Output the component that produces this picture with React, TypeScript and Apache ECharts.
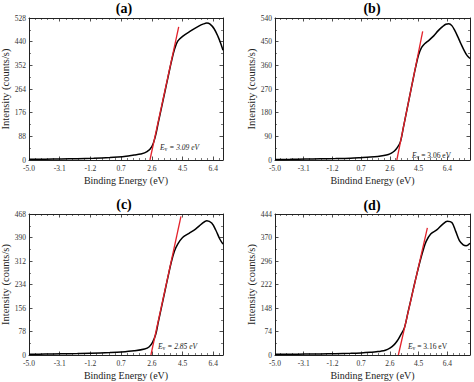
import React, { useEffect, useRef } from "react";
import * as echarts from "echarts";

// ---- axis definitions ----
const X_MIN = -5.0;
const X_MAX = [7.0, 7.9, 7.0, 7.9];
const X_STEP = 1.9;
const X_TICK_LABELS = ["-5.0", "-3.1", "-1.2", "0.7", "2.6", "4.5", "6.4"];

const PANEL_TITLES = ["(a)", "(b)", "(c)", "(d)"];
const X_NAMES = ["Binding Energy (eV)", "Bindind Energy (eV)", "Binding Energy (eV)", "Binding Energy (eV)"];
const Y_NAME = "Intensity (counts/s)";
const Y_MAX = [528, 540, 468, 444];
const Y_STEP = [88, 90, 78, 74];
const EV_VALUES = ["3.09", "3.06", "2.85", "3.16"];

// ---- spectra ----
const aX = [-5.0, -4.0, -3.0, -2.0, -1.0, 0.0, 0.5, 1.0, 1.5, 1.9, 2.3, 2.6, 2.8, 3.0, 3.2, 3.4, 3.6, 3.8, 4.0, 4.2, 4.5, 5.0, 5.5, 5.8, 6.0, 6.2, 6.45, 6.7, 6.85, 7.0];
const aY = [2.5, 3, 4, 5, 6.5, 9, 11, 14, 18.5, 22, 31, 50, 84, 140, 196, 252, 308, 364, 412, 442, 460, 480, 498, 506, 509, 505, 488, 458, 435, 408];

const bX = [-5, -4, -3, -2, -1, 0, 0.7, 1.3, 1.8, 2.2, 2.5, 2.7, 2.9, 3.1, 3.3, 3.5, 3.7, 3.9, 4.1, 4.3, 4.5, 4.7, 4.9, 5.2, 5.5, 5.8, 6.1, 6.3, 6.5, 6.7, 6.9, 7.1, 7.3, 7.5, 7.7, 7.9];
const bY = [2, 2.5, 3.5, 4.5, 5.5, 7, 9, 11, 13.5, 17, 21, 26, 34, 48, 70, 126, 183, 240, 297, 352, 400, 428, 442, 456, 472, 492, 508, 516, 518, 511, 492, 468, 442, 418, 398, 386];

const cX = [-5, -4, -3, -2, -1.2, 0, 0.7, 1.5, 2.15, 2.44, 2.64, 2.84, 3.0, 3.2, 3.4, 3.6, 3.8, 4.0, 4.2, 4.5, 4.9, 5.3, 5.7, 6.0, 6.3, 6.55, 6.8, 7.0];
const cY = [2.2, 3, 3.8, 4.6, 5.5, 8, 10, 14, 20, 27.5, 42, 69, 110, 160, 210, 260, 308, 345, 368, 390, 404, 418, 436, 446, 438, 415, 385, 368];

const dX = [-5, -4, -3, -2, -1, 0, 0.7, 1.3, 1.7, 2.0, 2.3, 2.6, 2.87, 3.08, 3.3, 3.57, 3.8, 4.0, 4.2, 4.4, 4.6, 4.8, 5.0, 5.3, 5.7, 6.1, 6.4, 6.7, 6.95, 7.2, 7.45, 7.65, 7.9];
const dY = [2, 2.5, 3, 3.5, 4.2, 5.2, 6.5, 8.5, 10.5, 12, 15, 22, 32, 44, 62, 87, 135, 176, 218, 258, 296, 330, 358, 381, 394, 412, 421, 417, 390, 360, 347, 344, 352];

// ---- linear extrapolation lines (start, end) ----
const fitAX = [2.48, 4.26];
const fitAY = [0, 495];
const fitBX = [3.06, 4.77];
const fitBY = [0, 489];
const fitCX = [2.54, 4.4];
const fitCY = [0, 460];
const fitDX = [3.16, 5.08];
const fitDY = [0, 400];

const CURVES_X = [aX, bX, cX, dX];
const CURVES_Y = [aY, bY, cY, dY];
const FITS_X = [fitAX, fitBX, fitCX, fitDX];
const FITS_Y = [fitAY, fitBY, fitCY, fitDY];

// ---- layout ----
const GRIDS = [
  { left: 29, top: 18, width: 194, height: 142 },
  { left: 275, top: 18, width: 195, height: 142 },
  { left: 29, top: 214, width: 194, height: 141 },
  { left: 275, top: 214, width: 195, height: 141 },
];
const TITLE_POS = [
  [124, 8],
  [372, 8],
  [124, 204],
  [372, 205],
];
const EV_POS = [
  [160, 147],
  [412, 155],
  [158, 346],
  [408, 346],
];
const EV_ITALIC = [true, false, true, false];

const SERIF = "'Liberation Serif', 'Times New Roman', serif";
const AXIS_COLOR = "#222";
const LABEL_COLOR = "#333";

const pair = (xs: number[], ys: number[]) => xs.map((x, i) => [x - X_MIN, ys[i]]);

function buildOption() {
  const xAxis: any[] = [];
  const yAxis: any[] = [];
  const series: any[] = [];
  const graphic: any[] = [];

  const xFormatter = (v: number) => {
    const k = Math.round(v / X_STEP);
    if (Math.abs(v - k * X_STEP) > 1e-6 || k < 0 || k >= X_TICK_LABELS.length) return "";
    return X_TICK_LABELS[k];
  };

  for (let i = 0; i < 4; i++) {
    const common = {
      gridIndex: i,
      axisLine: { show: true, onZero: false, lineStyle: { color: AXIS_COLOR, width: 1 } },
      axisTick: { show: true, inside: true, length: 3.5, lineStyle: { color: AXIS_COLOR, width: 0.8 } },
      splitLine: { show: false },
    };
    const xCommon = {
      ...common,
      type: "value",
      min: 0,
      max: X_MAX[i] - X_MIN,
      interval: X_STEP,
      minorTick: { show: true, splitNumber: 5, length: 2, lineStyle: { color: AXIS_COLOR, width: 0.6 } },
    };
    xAxis.push({
      ...xCommon,
      position: "bottom",
      name: X_NAMES[i],
      nameLocation: "middle",
      nameGap: 15,
      nameTextStyle: { fontFamily: SERIF, fontSize: 10, color: "#222" },
      axisLabel: { show: true, formatter: xFormatter, fontFamily: SERIF, fontSize: 7.5, color: LABEL_COLOR, margin: 4.5 },
    });
    xAxis.push({ ...xCommon, position: "top", axisLabel: { show: false } });

    const yCommon = {
      ...common,
      type: "value",
      min: 0,
      max: Y_MAX[i],
      interval: Y_STEP[i],
      minorTick: { show: true, splitNumber: 2, length: 2, lineStyle: { color: AXIS_COLOR, width: 0.6 } },
    };
    yAxis.push({
      ...yCommon,
      position: "left",
      name: Y_NAME,
      nameLocation: "middle",
      nameRotate: 90,
      nameGap: 16,
      nameTextStyle: { fontFamily: SERIF, fontSize: 10.5, color: "#222" },
      axisLabel: { show: true, fontFamily: SERIF, fontSize: 7.5, color: LABEL_COLOR, margin: 3, lineHeight: 7.5 },
    });
    yAxis.push({ ...yCommon, position: "right", axisLabel: { show: false } });

    series.push({
      type: "line",
      xAxisIndex: 2 * i,
      yAxisIndex: 2 * i,
      data: pair(CURVES_X[i], CURVES_Y[i]),
      smooth: 0.35,
      showSymbol: false,
      lineStyle: { color: "#000", width: 1.5 },
      z: 2,
    });
    series.push({
      type: "line",
      xAxisIndex: 2 * i,
      yAxisIndex: 2 * i,
      data: pair(FITS_X[i], FITS_Y[i]),
      showSymbol: false,
      lineStyle: { color: "#e3222b", width: 1.3 },
      z: 3,
    });

    graphic.push({
      type: "text",
      x: TITLE_POS[i][0],
      y: TITLE_POS[i][1],
      style: {
        text: PANEL_TITLES[i],
        fontFamily: SERIF,
        fontSize: 14,
        fontWeight: "bold",
        fill: "#000",
        textAlign: "center",
        textVerticalAlign: "middle",
      },
    });
    const it = EV_ITALIC[i] ? "italic" : "normal";
    graphic.push({
      type: "text",
      x: EV_POS[i][0],
      y: EV_POS[i][1],
      style: {
        text: `{e|E}{s|v}{t| = ${EV_VALUES[i]} eV}`,
        textVerticalAlign: "middle",
        rich: {
          e: { fontFamily: SERIF, fontSize: 7.5, fontStyle: "italic", fill: "#222" },
          s: { fontFamily: SERIF, fontSize: 5.5, fill: "#222", padding: [4, 0, 0, 0] },
          t: { fontFamily: SERIF, fontSize: 7.5, fontStyle: it, fill: "#222" },
        },
      },
    });
  }

  return {
    animation: false,
    backgroundColor: "#fff",
    grid: GRIDS.map((g) => ({ ...g, containLabel: false, outerBoundsMode: "none" })),
    xAxis,
    yAxis,
    series,
    graphic,
  };
}

export default function App() {
  const ref = useRef<HTMLDivElement>(null);
  useEffect(() => {
    if (!ref.current) return;
    const chart = echarts.init(ref.current, undefined, { renderer: "svg" });
    chart.setOption(buildOption() as any);
    return () => chart.dispose();
  }, []);
  return (
    <div
      ref={ref}
      style={{ position: "absolute", left: 0, top: 0, width: 474, height: 382, background: "#fff" }}
    />
  );
}
